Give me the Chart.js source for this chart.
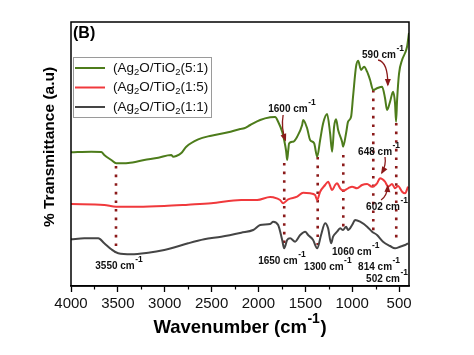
<!DOCTYPE html>
<html><head><meta charset="utf-8">
<script src="https://cdn.jsdelivr.net/npm/chart.js@4.4.1/dist/chart.umd.min.js"></script>
<style>html,body{margin:0;padding:0;background:#fff}#wrap{width:474px;height:355px}</style>
</head><body>
<div id="wrap"><canvas id="c" width="474" height="355"></canvas></div>
<script>
const FONT = "'Liberation Sans', Arial, Helvetica, sans-serif";

// ---- axis ticks ----
const xTicks = [4000, 3500, 3000, 2500, 2000, 1500, 1000, 500];
const xMinorTicks = [3750, 3250, 2750, 2250, 1750, 1250, 750];

// ---- series names ----
const seriesNames = ['(Ag₂O/TiO₂(5:1)', '(Ag₂O/TiO₂(1:5)', '(Ag₂O/TiO₂(1:1)'];

// ---- (Ag2O/TiO2(5:1) ----
const s51Wn = [4000,3784,3677,3645,3570,3517,3389,3219,3069,2931,2909,2877,2823,2770,2643,2504,2323,2195,2152,2088,1982,1875,1822,1790,1747,1726,1705,1694,1683,1673,1630,1587,1534,1523,1481,1449,1406,1374,1342,1310,1268,1236,1214,1193,1172,1150,1108,1097,1065,1044,1012,991,959,937,905,873,841,809,777,735,681,650,628,596,564,543,532,521,500,468,436,415,394];
const s51T = [133.7,134.3,134,131,126,122.7,123,126,128.3,131,129.3,130,133,139.3,146.7,150.3,153.7,157,157.7,161,166,168.7,169,164.3,154.3,146,135,126,135,142.7,144.3,149.3,161,166,157.7,146,142.7,129.3,146,162.7,172,153,134.3,159.3,166.7,156,144.3,139.3,153,164.3,169.3,189.3,219.3,225.3,216,219.3,214.3,206,196,197.7,199.3,188,176,184.3,194.3,182.7,164.3,186,212.7,226,233,239.3,253];

// ---- (Ag2O/TiO2(1:5) ----
const s15Wn = [4000,3645,3517,3283,3005,2750,2504,2184,2014,1875,1843,1769,1737,1683,1587,1523,1449,1396,1374,1342,1289,1257,1214,1182,1161,1129,1097,1044,1001,948,895,841,788,735,703,650,617,575,543,511,468,436,404];
const s15T = [82,81,79.3,79.3,80,81.3,82.7,86,86,89,88.7,86,82.7,86.7,89.3,93.3,92.7,91,86,94.3,101,104.3,96,101,102.7,97.7,95.3,97.7,99.3,97.7,101,102,99.3,102.7,107.7,104.3,99.3,102,97.7,100,94.3,92.7,99.3];

// ---- (Ag2O/TiO2(1:1) ----
const s11Wn = [4000,3858,3709,3645,3570,3496,3357,3176,3005,2931,2750,2579,2397,2184,2056,1982,1875,1843,1790,1747,1726,1694,1662,1609,1555,1502,1470,1417,1374,1332,1289,1257,1225,1204,1161,1129,1097,1065,1044,1001,969,916,841,788,735,671,596,543,489,436,404];
const s11T = [46.7,47.7,47.7,42.7,36.7,32.7,31.7,33.3,36,37.7,42.7,46.7,49.3,53.3,56,61,62,64.3,61,46,37.7,46,47.7,44.3,51,54.3,51,46,37.7,51,62.7,57.7,42.7,49.3,54.3,57.7,56,59.3,56,61,66,64.3,59.3,54.3,51,44.3,40,37.7,39.3,41,42.7];

// ---- dotted marker lines (wavenumber, top, bottom) ----
const markWn = [3520, 1725, 1368, 1095, 775, 530];
const markTop = [120, 123, 129, 131, 196, 163];
const markBottom = [33, 39, 41, 56, 51, 43];

// ---- peak labels ----
const peakLabels = ['3550', '1650', '1300', '1060', '814', '502', '1600', '590', '648', '602'];
// anchor of each label (left edge, middle) in data units
const peakLabelWn = [3741, 2003, 1513, 1215, 937, 852, 1896, 895, 937, 852];
const peakLabelT = [20, 25, 19, 34, 19, 7, 177, 231, 134, 79];

// curved arrows: start, control, end in data units
const arrows = [
  {s:[1737,171], c:[1760,158], e:[1712,146]},
  {s:[724,226], c:[618,224], e:[620,201]},
  {s:[650,129], c:[636,121], e:[684,113]},
  {s:[692,86], c:[628,90], e:[620,100]}
];

const colors = ['#4d7c1b', '#f0393c', '#454545'];
const markColor = '#8b1a1a';

const toPts = (wn, t) => wn.map((w, i) => ({x: w, y: t[i]}));

const datasets = [
  {label: seriesNames[0], data: toPts(s51Wn, s51T), borderColor: colors[0], borderWidth: 2},
  {label: seriesNames[1], data: toPts(s15Wn, s15T), borderColor: colors[1], borderWidth: 2},
  {label: seriesNames[2], data: toPts(s11Wn, s11T), borderColor: colors[2], borderWidth: 2}
].map(d => Object.assign(d, {pointRadius: 0, fill: false, cubicInterpolationMode: 'monotone'}));

markWn.forEach((w, i) => {
  datasets.push({
    label: 'mark' + i,
    data: [{x: w, y: markTop[i]}, {x: w, y: markBottom[i]}],
    borderColor: markColor, borderWidth: 2.6, borderDash: [2.6, 6], borderCapStyle: 'butt',
    pointRadius: 0, fill: false
  });
});

function drawSegText(ctx, str, x, y, size, bold) {
  // draws text where '₂' is rendered as a subscript 2
  let cx = x;
  for (const ch of str) {
    if (ch === '₂') {
      ctx.font = (bold ? 'bold ' : '') + (size * 0.7) + 'px ' + FONT;
      ctx.fillText('2', cx, y + size * 0.3);
      cx += ctx.measureText('2').width;
    } else {
      ctx.font = (bold ? 'bold ' : '') + size + 'px ' + FONT;
      ctx.fillText(ch, cx, y);
      cx += ctx.measureText(ch).width;
    }
  }
  return cx;
}

const decor = {
  id: 'decor',
  afterDatasetsDraw(chart) {
    const {ctx, chartArea: a, scales: {x, y}} = chart;
    ctx.save();
    // frame
    ctx.strokeStyle = '#000'; ctx.lineWidth = 1.5;
    ctx.strokeRect(a.left, a.top, a.right - a.left, a.bottom - a.top);
    // minor ticks
    ctx.lineWidth = 1.2;
    xMinorTicks.forEach(v => {
      const p = Math.round(x.getPixelForValue(v)) + 0.5;
      ctx.beginPath(); ctx.moveTo(p, a.bottom); ctx.lineTo(p, a.bottom + 3.5); ctx.stroke();
    });
    // (B)
    ctx.fillStyle = '#000'; ctx.textBaseline = 'middle'; ctx.textAlign = 'left';
    ctx.font = 'bold 16px ' + FONT;
    ctx.fillText('(B)', 73, 34);
    // legend
    ctx.strokeStyle = '#9a9a9a'; ctx.lineWidth = 1;
    ctx.strokeRect(73.5, 57.5, 138, 60);
    const ly = [68, 87.5, 107];
    seriesNames.forEach((n, i) => {
      ctx.strokeStyle = colors[i]; ctx.lineWidth = 2;
      ctx.beginPath(); ctx.moveTo(75, ly[i]); ctx.lineTo(105, ly[i]); ctx.stroke();
      ctx.fillStyle = '#111';
      drawSegText(ctx, n, 113, ly[i], 13.5, false);
    });
    // peak labels
    ctx.fillStyle = '#111';
    peakLabels.forEach((t, i) => {
      const lx = x.getPixelForValue(peakLabelWn[i]);
      const lyy = y.getPixelForValue(peakLabelT[i]);
      ctx.font = 'bold 10px ' + FONT;
      const main = t + ' cm';
      ctx.fillText(main, lx, lyy);
      const w = ctx.measureText(main).width;
      ctx.font = 'bold 8.5px ' + FONT;
      ctx.fillText('-1', lx + w + 0.5, lyy - 6);
    });
    // arrows
    ctx.strokeStyle = markColor; ctx.fillStyle = markColor; ctx.lineWidth = 1.3;
    arrows.forEach(ar => {
      const sx = x.getPixelForValue(ar.s[0]), sy = y.getPixelForValue(ar.s[1]);
      const cx = x.getPixelForValue(ar.c[0]), cy = y.getPixelForValue(ar.c[1]);
      const ex = x.getPixelForValue(ar.e[0]), ey = y.getPixelForValue(ar.e[1]);
      ctx.beginPath(); ctx.moveTo(sx, sy); ctx.quadraticCurveTo(cx, cy, ex, ey); ctx.stroke();
      const ang = Math.atan2(ey - cy, ex - cx);
      const L = 6, W = 3;
      ctx.beginPath();
      ctx.moveTo(ex + Math.cos(ang) * 1.5, ey + Math.sin(ang) * 1.5);
      ctx.lineTo(ex - Math.cos(ang) * L + Math.sin(ang) * W, ey - Math.sin(ang) * L - Math.cos(ang) * W);
      ctx.lineTo(ex - Math.cos(ang) * L - Math.sin(ang) * W, ey - Math.sin(ang) * L + Math.cos(ang) * W);
      ctx.closePath(); ctx.fill();
    });
    // x title
    ctx.fillStyle = '#000';
    ctx.font = 'bold 18.5px ' + FONT;
    const tMain = 'Wavenumber (cm';
    const wMain = ctx.measureText(tMain).width;
    ctx.font = 'bold 14px ' + FONT;
    const wSup = ctx.measureText('-1').width;
    ctx.font = 'bold 18.5px ' + FONT;
    const wPar = ctx.measureText(')').width;
    const total = wMain + wSup + wPar + 1;
    let tx = (a.left + a.right) / 2 - total / 2;
    const ty = 328;
    ctx.fillText(tMain, tx, ty);
    ctx.font = 'bold 14px ' + FONT;
    ctx.fillText('-1', tx + wMain + 0.5, ty - 9);
    ctx.font = 'bold 18.5px ' + FONT;
    ctx.fillText(')', tx + wMain + wSup + 1, ty);
    // y title
    ctx.translate(50, 147);
    ctx.rotate(-Math.PI / 2);
    ctx.textAlign = 'center';
    ctx.font = 'bold 15.5px ' + FONT;
    ctx.fillText('% Transmittance (a.u)', 0, 0);
    ctx.restore();
  }
};

new Chart(document.getElementById('c'), {
  type: 'line',
  data: {datasets},
  options: {
    responsive: false,
    animation: false,
    layout: {padding: {left: 71, right: 65, top: 22, bottom: 0}},
    plugins: {legend: {display: false}, tooltip: {enabled: false}},
    scales: {
      x: {
        type: 'linear', reverse: true, min: 394, max: 4000,
        afterBuildTicks: s => { s.ticks = xTicks.map(v => ({value: v})); },
        afterFit: s => { s.height = 69; },
        grid: {drawOnChartArea: false, drawTicks: true, tickLength: 6, color: '#000', tickWidth: 1.3},
        border: {display: true, color: '#000', width: 1.5},
        ticks: {color: '#111', font: {family: FONT, size: 15}, padding: 3, maxRotation: 0, autoSkip: false,
                callback: v => String(v)}
      },
      y: {type: 'linear', min: 0, max: 264, display: false}
    }
  },
  plugins: [decor]
});
</script>
</body></html>
